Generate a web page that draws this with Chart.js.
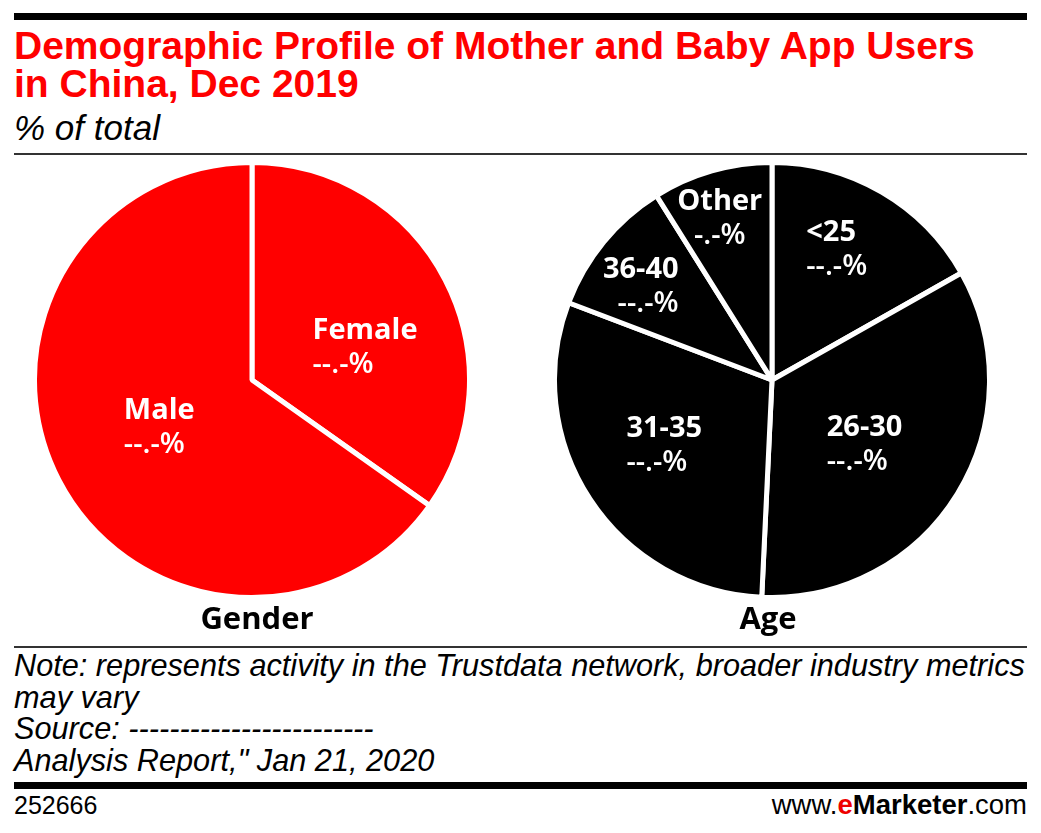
<!DOCTYPE html>
<html>
<head>
<meta charset="utf-8">
<script src="https://cdn.jsdelivr.net/npm/chart.js@4"></script>
<style>
  body { margin: 0; background: #fff; width: 1041px; height: 833px; position: relative; overflow: hidden; font-family: "Liberation Sans", sans-serif; }
  .bar { position: absolute; left: 14px; width: 1013px; background: #000; }
  .title { position: absolute; left: 14px; top: 27px; color: #ff0000; font-weight: bold; font-size: 39px; line-height: 38px; }
  .sub { position: absolute; left: 14px; top: 108px; font-style: italic; font-size: 35px; }
  .note { position: absolute; left: 14px; top: 650px; font-style: italic; font-size: 30.7px; line-height: 31.5px; white-space: nowrap; }
  .pie { position: absolute; top: 160px; width: 440px; height: 440px; }
  .cap { position: absolute; top: 596px; width: 300px; text-align: center; font-family: "Open Sans", sans-serif; font-weight: bold; font-size: 31px; }
  .foot { position: absolute; top: 791px; font-size: 25px; }
</style>
</head>
<body>
<div class="bar" style="top:13px;height:7px"></div>
<div class="title">Demographic Profile of Mother and Baby App Users<br>in China, Dec 2019</div>
<div class="sub">% of total</div>
<div class="bar" style="top:153px;height:2px;background:#333"></div>

<div class="pie" style="left:32px"><canvas id="genderChart"></canvas></div>
<div class="pie" style="left:552px"><canvas id="ageChart"></canvas></div>
<div class="cap" style="left:107px">Gender</div>
<div class="cap" style="left:618px">Age</div>

<div class="bar" style="top:646px;height:2px;background:#333"></div>
<div class="note">Note: represents activity in the Trustdata network, broader industry metrics<br>may vary<br>Source: ------------------------<br>Analysis Report," Jan 21, 2020</div>
<div class="bar" style="top:782px;height:7px"></div>
<div class="foot" style="left:14px">252666</div>
<div class="foot" style="right:14px;font-size:27.5px;top:789px">www.<b style="color:#e00">e</b><b>Marketer</b>.com</div>

<script>
// Gender data (clockwise from 12 o'clock)
const genderLabels = ['Female', 'Male'];
const genderValues = [34.8, 65.2];
const genderValueText = ['--.-%', '--.-%'];

// Age data
const ageLabels = ['<25', '26-30', '31-35', '36-40', 'Other'];
const ageValues = [16.8, 33.9, 30.0, 10.3, 8.9];
const ageValueText = ['--.-%', '--.-%', '--.-%', '--.-%', '-.-%'];

// label placement: share of the radius, turn off the mid angle (degrees), line alignment
const genderLabelR = [0.54, 0.48];
const genderLabelTurn = [11.6, 0];
const genderLabelAlign = ['left', 'left'];
const ageLabelR = [0.67, 0.52, 0.58, 0.74, 0.78];
const ageLabelTurn = [-3.9, 3.4, 1.9, -4, -1.9];
const ageLabelAlign = ['left', 'left', 'left', 'right', 'center'];

// draw the slice labels inside the pie
const sliceLabels = {
  id: 'sliceLabels',
  afterDatasetsDraw(chart, args, opts) {
    const ctx = chart.ctx;
    const arcs = chart.getDatasetMeta(0).data;
    ctx.save();
    ctx.fillStyle = '#fff';
    ctx.textBaseline = 'middle';
    arcs.forEach((arc, i) => {
      const p = arc.getProps(['x', 'y', 'startAngle', 'endAngle', 'outerRadius'], true);
      const mid = (p.startAngle + p.endAngle) / 2 + opts.turn[i] * Math.PI / 180;
      const r = p.outerRadius * opts.radius[i];
      const cx = p.x + Math.cos(mid) * r;
      const cy = p.y + Math.sin(mid) * r;
      const top = chart.data.labels[i];
      const bottom = opts.text[i];
      ctx.font = 'bold 29px "Open Sans"';
      const w1 = ctx.measureText(top).width;
      ctx.font = '600 29px "Open Sans"';
      const w2 = ctx.measureText(bottom).width;
      const half = Math.max(w1, w2) / 2;
      const align = opts.align[i];
      const x = align === 'left' ? cx - half : align === 'right' ? cx + half : cx;
      ctx.textAlign = align;
      ctx.fillText(bottom, x, cy + 17);
      ctx.font = 'bold 29px "Open Sans"';
      ctx.fillText(top, x, cy - 17);
    });
    ctx.restore();
  }
};

function makePie(id, labels, values, color, text, radius, turn, align) {
  return new Chart(document.getElementById(id), {
    type: 'pie',
    data: {
      labels: labels,
      datasets: [{
        data: values,
        backgroundColor: color,
        borderColor: '#fff',
        borderWidth: 5
      }]
    },
    options: {
      responsive: true,
      maintainAspectRatio: false,
      animation: false,
      layout: { padding: 0 },
      plugins: {
        legend: { display: false },
        tooltip: { enabled: false },
        sliceLabels: { text: text, radius: radius, turn: turn, align: align }
      }
    },
    plugins: [sliceLabels]
  });
}

makePie('genderChart', genderLabels, genderValues, '#ff0000', genderValueText, genderLabelR, genderLabelTurn, genderLabelAlign);
makePie('ageChart', ageLabels, ageValues, '#000000', ageValueText, ageLabelR, ageLabelTurn, ageLabelAlign);
</script>
</body>
</html>
